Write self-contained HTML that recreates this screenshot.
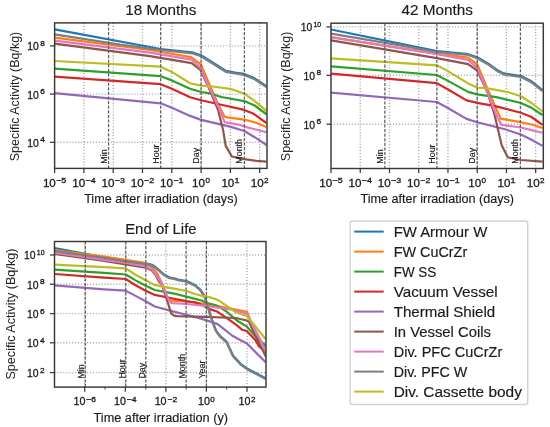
<!DOCTYPE html>
<html><head><meta charset="utf-8"><style>
html,body{margin:0;padding:0;background:#fff;}
svg{display:block;filter:blur(0.35px);}
text{font-family:"Liberation Sans",sans-serif;fill:#1a1a1a;stroke:#1a1a1a;stroke-width:0.15px;}
text.tk{stroke-width:0.3px;}
text.yl{stroke-width:0px;fill:#262626;}
</style></head><body>
<svg width="550" height="427" viewBox="0 0 550 427">
<defs>
<clipPath id="c0"><rect x="54.6" y="22.9" width="212.4" height="145.5"/></clipPath>
<clipPath id="c1"><rect x="331" y="23.2" width="212.29999999999995" height="145.3"/></clipPath>
<clipPath id="c2"><rect x="54.5" y="241.5" width="211.5" height="145.60000000000002"/></clipPath>
</defs>
<rect width="550" height="427" fill="#fff"/>
<line x1="83.90" y1="22.90" x2="83.90" y2="168.40" stroke="#ababab" stroke-width="1.4" stroke-dasharray="1.1,1.85"/>
<line x1="113.20" y1="22.90" x2="113.20" y2="168.40" stroke="#ababab" stroke-width="1.4" stroke-dasharray="1.1,1.85"/>
<line x1="142.50" y1="22.90" x2="142.50" y2="168.40" stroke="#ababab" stroke-width="1.4" stroke-dasharray="1.1,1.85"/>
<line x1="171.80" y1="22.90" x2="171.80" y2="168.40" stroke="#ababab" stroke-width="1.4" stroke-dasharray="1.1,1.85"/>
<line x1="201.10" y1="22.90" x2="201.10" y2="168.40" stroke="#ababab" stroke-width="1.4" stroke-dasharray="1.1,1.85"/>
<line x1="230.40" y1="22.90" x2="230.40" y2="168.40" stroke="#ababab" stroke-width="1.4" stroke-dasharray="1.1,1.85"/>
<line x1="259.70" y1="22.90" x2="259.70" y2="168.40" stroke="#ababab" stroke-width="1.4" stroke-dasharray="1.1,1.85"/>
<line x1="54.60" y1="45.90" x2="267.00" y2="45.90" stroke="#ababab" stroke-width="1.4" stroke-dasharray="1.1,1.85"/>
<line x1="54.60" y1="94.10" x2="267.00" y2="94.10" stroke="#ababab" stroke-width="1.4" stroke-dasharray="1.1,1.85"/>
<line x1="54.60" y1="142.30" x2="267.00" y2="142.30" stroke="#ababab" stroke-width="1.4" stroke-dasharray="1.1,1.85"/>
<line x1="360.24" y1="23.20" x2="360.24" y2="168.50" stroke="#ababab" stroke-width="1.4" stroke-dasharray="1.1,1.85"/>
<line x1="389.48" y1="23.20" x2="389.48" y2="168.50" stroke="#ababab" stroke-width="1.4" stroke-dasharray="1.1,1.85"/>
<line x1="418.72" y1="23.20" x2="418.72" y2="168.50" stroke="#ababab" stroke-width="1.4" stroke-dasharray="1.1,1.85"/>
<line x1="447.96" y1="23.20" x2="447.96" y2="168.50" stroke="#ababab" stroke-width="1.4" stroke-dasharray="1.1,1.85"/>
<line x1="477.20" y1="23.20" x2="477.20" y2="168.50" stroke="#ababab" stroke-width="1.4" stroke-dasharray="1.1,1.85"/>
<line x1="506.44" y1="23.20" x2="506.44" y2="168.50" stroke="#ababab" stroke-width="1.4" stroke-dasharray="1.1,1.85"/>
<line x1="535.68" y1="23.20" x2="535.68" y2="168.50" stroke="#ababab" stroke-width="1.4" stroke-dasharray="1.1,1.85"/>
<line x1="331.00" y1="26.90" x2="543.30" y2="26.90" stroke="#ababab" stroke-width="1.4" stroke-dasharray="1.1,1.85"/>
<line x1="331.00" y1="75.30" x2="543.30" y2="75.30" stroke="#ababab" stroke-width="1.4" stroke-dasharray="1.1,1.85"/>
<line x1="331.00" y1="124.20" x2="543.30" y2="124.20" stroke="#ababab" stroke-width="1.4" stroke-dasharray="1.1,1.85"/>
<line x1="84.70" y1="241.50" x2="84.70" y2="387.10" stroke="#ababab" stroke-width="1.4" stroke-dasharray="1.1,1.85"/>
<line x1="125.30" y1="241.50" x2="125.30" y2="387.10" stroke="#ababab" stroke-width="1.4" stroke-dasharray="1.1,1.85"/>
<line x1="165.90" y1="241.50" x2="165.90" y2="387.10" stroke="#ababab" stroke-width="1.4" stroke-dasharray="1.1,1.85"/>
<line x1="206.40" y1="241.50" x2="206.40" y2="387.10" stroke="#ababab" stroke-width="1.4" stroke-dasharray="1.1,1.85"/>
<line x1="247.00" y1="241.50" x2="247.00" y2="387.10" stroke="#ababab" stroke-width="1.4" stroke-dasharray="1.1,1.85"/>
<line x1="54.50" y1="255.00" x2="266.00" y2="255.00" stroke="#ababab" stroke-width="1.4" stroke-dasharray="1.1,1.85"/>
<line x1="54.50" y1="284.20" x2="266.00" y2="284.20" stroke="#ababab" stroke-width="1.4" stroke-dasharray="1.1,1.85"/>
<line x1="54.50" y1="313.60" x2="266.00" y2="313.60" stroke="#ababab" stroke-width="1.4" stroke-dasharray="1.1,1.85"/>
<line x1="54.50" y1="342.80" x2="266.00" y2="342.80" stroke="#ababab" stroke-width="1.4" stroke-dasharray="1.1,1.85"/>
<line x1="54.50" y1="372.60" x2="266.00" y2="372.60" stroke="#ababab" stroke-width="1.4" stroke-dasharray="1.1,1.85"/>
<g clip-path="url(#c0)" fill="none" stroke-width="2.2" stroke-linejoin="round" stroke-linecap="butt">
<polyline points="54.6,29.4 160.7,49.0 192.0,52.3 201.0,55.3 212.6,62.5 225.7,70.8 235.0,72.5 244.2,73.9 254.7,78.3 266.5,86.2" stroke="#1f77b4"/>
<polyline points="54.6,37.6 150.0,50.0 191.0,57.2 201.0,64.5 208.7,82.8 218.1,104.3 224.6,116.5 227.5,117.4 244.2,119.6 254.7,122.2 266.5,127.0" stroke="#ff7f0e"/>
<polyline points="54.6,68.6 160.7,76.2 171.9,80.4 190.1,88.8 201.1,92.0 209.8,93.4 221.3,97.0 244.2,101.1 254.7,105.5 266.5,114.3" stroke="#2ca02c"/>
<polyline points="54.6,76.6 160.7,84.2 171.9,88.8 190.1,97.2 201.1,100.3 221.3,104.7 244.2,109.9 253.0,113.4 266.5,123.1" stroke="#d62728"/>
<polyline points="54.6,93.2 160.7,103.3 171.9,107.8 190.1,115.9 201.1,119.9 230.1,126.6 244.2,131.0 254.7,137.2 266.5,145.0" stroke="#9467bd"/>
<polyline points="54.6,43.6 150.0,56.1 191.6,63.1 200.4,70.0 208.7,87.5 218.1,110.0 221.8,124.9 223.1,130.1 225.7,145.9 231.9,156.5 244.2,159.1 256.5,160.9 266.5,161.7" stroke="#8c564b"/>
<polyline points="54.6,40.6 150.0,52.6 191.6,59.6 200.3,67.5 208.7,86.5 218.1,106.2 224.6,122.1 240.0,124.9 244.2,126.6 254.7,129.3 266.5,132.2" stroke="#e377c2"/>
<polyline points="54.6,34.3 120.0,44.7 160.7,50.0 192.0,53.3 201.0,56.3 212.6,63.5 225.7,71.8 235.0,73.5 244.2,74.9 254.7,79.3 266.5,87.2" stroke="#7f7f7f"/>
<polyline points="54.6,61.0 160.7,66.7 171.9,71.9 190.1,83.2 201.1,85.6 212.6,86.5 230.1,88.8 244.2,93.5 254.7,101.1 266.5,110.8" stroke="#bcbd22"/>
</g>
<g clip-path="url(#c1)" fill="none" stroke-width="2.2" stroke-linejoin="round" stroke-linecap="butt">
<polyline points="331.0,29.5 436.8,51.2 468.1,54.2 477.3,57.3 488.7,64.0 498.0,70.6 503.7,73.4 510.0,74.4 520.9,76.0 531.5,81.3 542.5,90.1" stroke="#1f77b4"/>
<polyline points="331.0,37.3 436.8,53.7 468.1,57.6 477.3,64.5 487.6,89.2 499.0,115.0 500.7,118.7 520.9,122.2 531.5,124.5 542.5,128.0" stroke="#ff7f0e"/>
<polyline points="331.0,66.4 436.8,75.0 447.5,80.6 468.1,91.9 477.3,94.4 496.3,97.1 520.9,103.0 531.5,107.8 542.5,115.0" stroke="#2ca02c"/>
<polyline points="331.0,73.7 436.8,83.1 449.0,90.0 466.5,100.4 477.3,102.9 496.3,106.4 520.9,112.7 531.5,117.0 542.5,124.9" stroke="#d62728"/>
<polyline points="331.0,92.7 436.8,102.0 447.9,108.0 466.5,118.9 477.3,122.2 505.1,129.3 520.9,134.5 531.5,139.8 542.5,145.9" stroke="#9467bd"/>
<polyline points="331.0,40.4 436.8,58.1 468.1,64.1 477.3,70.5 487.6,92.7 494.6,115.0 498.1,130.1 501.6,145.1 507.8,157.4 520.9,160.0 542.5,161.7" stroke="#8c564b"/>
<polyline points="331.0,37.0 436.8,54.2 468.1,60.0 477.3,67.8 487.6,92.7 496.3,115.0 501.6,124.9 520.9,127.5 531.5,130.1 542.5,132.8" stroke="#e377c2"/>
<polyline points="331.0,33.7 400.0,45.4 436.8,52.0 468.1,55.0 477.3,58.2 488.7,64.9 498.0,71.5 503.7,74.3 510.0,75.3 520.9,77.0 531.5,82.3 542.5,91.1" stroke="#7f7f7f"/>
<polyline points="331.0,58.4 436.8,65.3 447.5,70.9 468.1,83.4 477.3,87.5 487.6,88.3 506.9,91.8 520.9,96.2 531.5,103.0 542.5,111.5" stroke="#bcbd22"/>
</g>
<g clip-path="url(#c2)" fill="none" stroke-width="2.2" stroke-linejoin="round" stroke-linecap="butt">
<polyline points="54.6,248.2 104.0,257.3 125.8,260.6 145.7,263.4 152.0,264.8 155.5,267.0 159.0,270.1 162.6,273.3 166.1,275.7 169.6,277.5 175.0,278.5 177.8,279.5 186.4,281.0 195.0,285.0 200.6,289.8 204.8,296.9 207.6,305.3 210.5,315.1 213.3,323.6 216.1,330.6 220.3,336.2 226.5,341.5 233.0,355.4 240.6,363.8 247.0,368.4 265.7,378.3" stroke="#1f77b4"/>
<polyline points="54.6,250.0 104.0,256.5 125.8,259.8 145.7,263.2 152.0,267.2 155.5,271.0 157.5,274.0 159.0,277.3 161.9,283.1 164.7,290.0 167.0,296.6 171.1,300.7 186.4,301.5 199.0,303.1 210.0,304.8 230.8,308.5 246.9,311.8 252.1,324.1 260.3,340.0 266.0,350.0" stroke="#ff7f0e"/>
<polyline points="54.6,269.6 104.0,272.9 125.8,274.5 135.1,280.1 145.7,285.7 154.8,290.0 172.8,293.3 186.4,296.6 202.3,300.7 206.2,302.8 216.0,305.2 225.9,311.0 237.3,320.8 246.7,326.4 257.0,338.0 266.0,346.0" stroke="#2ca02c"/>
<polyline points="54.6,274.0 104.0,277.6 125.8,279.0 135.1,285.0 145.7,290.7 154.8,294.9 172.8,298.5 186.4,301.1 195.0,302.4 200.5,304.2 205.3,306.9 208.0,308.6 217.7,311.8 230.8,320.8 236.0,324.6 242.3,329.8 246.7,331.0 255.4,340.0 258.9,346.3 266.0,352.0" stroke="#d62728"/>
<polyline points="54.6,285.4 104.0,289.3 125.8,290.7 135.1,295.6 145.7,301.2 154.8,306.5 172.8,311.4 186.4,314.7 197.4,317.6 207.8,320.8 217.7,324.1 225.9,330.7 232.0,335.5 240.6,340.2 246.7,343.3 265.7,362.3" stroke="#9467bd"/>
<polyline points="54.6,254.0 104.0,261.0 125.8,264.3 145.7,267.6 152.0,270.5 155.5,275.0 158.5,280.5 162.3,285.5 171.2,313.3 174.0,315.7 177.0,316.2 186.4,316.3 205.6,316.8 236.0,318.0 246.7,320.5 248.8,321.6 255.4,335.6 266.3,357.4" stroke="#8c564b"/>
<polyline points="54.6,252.7 104.0,259.8 125.8,262.8 145.7,266.4 152.0,269.4 155.5,274.0 160.0,280.5 163.5,288.0 166.5,295.0 170.5,302.6 172.5,303.1 186.4,304.0 205.6,305.8 230.8,309.5 246.9,313.4 255.0,330.0 260.3,340.0 266.0,352.0" stroke="#e377c2"/>
<polyline points="54.6,251.1 104.0,257.9 125.8,261.3 145.7,264.1 152.0,265.5 155.5,267.7 159.0,270.8 162.6,274.0 166.1,276.4 169.6,278.2 175.0,279.2 177.8,280.2 186.4,281.7 195.0,285.7 200.6,290.6 204.8,297.7 207.6,306.1 210.5,315.9 213.3,324.4 216.1,331.4 220.3,337.0 226.5,342.3 233.0,356.2 240.6,364.6 247.0,369.2 265.7,379.1" stroke="#7f7f7f"/>
<polyline points="54.6,264.7 104.0,267.2 125.8,268.4 135.1,274.5 145.7,280.3 154.4,284.9 163.7,286.9 172.8,288.4 186.4,291.0 195.0,294.0 203.4,296.2 210.0,297.4 216.0,299.3 220.5,301.6 225.0,304.6 236.0,312.3 246.9,316.0 265.7,339.0" stroke="#bcbd22"/>
</g>
<line x1="108.57" y1="22.90" x2="108.57" y2="168.40" stroke="#5e5e5e" stroke-width="1.25" stroke-dasharray="3.1,1.5"/>
<line x1="160.67" y1="22.90" x2="160.67" y2="168.40" stroke="#5e5e5e" stroke-width="1.25" stroke-dasharray="3.1,1.5"/>
<line x1="201.10" y1="22.90" x2="201.10" y2="168.40" stroke="#5e5e5e" stroke-width="1.25" stroke-dasharray="3.1,1.5"/>
<line x1="244.38" y1="22.90" x2="244.38" y2="168.40" stroke="#5e5e5e" stroke-width="1.25" stroke-dasharray="3.1,1.5"/>
<line x1="384.86" y1="23.20" x2="384.86" y2="168.50" stroke="#5e5e5e" stroke-width="1.25" stroke-dasharray="3.1,1.5"/>
<line x1="436.85" y1="23.20" x2="436.85" y2="168.50" stroke="#5e5e5e" stroke-width="1.25" stroke-dasharray="3.1,1.5"/>
<line x1="477.20" y1="23.20" x2="477.20" y2="168.50" stroke="#5e5e5e" stroke-width="1.25" stroke-dasharray="3.1,1.5"/>
<line x1="520.39" y1="23.20" x2="520.39" y2="168.50" stroke="#5e5e5e" stroke-width="1.25" stroke-dasharray="3.1,1.5"/>
<text transform="translate(106.67,163.70) rotate(-90)" font-size="8.9" text-anchor="start">Min</text>
<text transform="translate(158.77,163.70) rotate(-90)" font-size="8.9" text-anchor="start">Hour</text>
<text transform="translate(199.20,163.70) rotate(-90)" font-size="8.9" text-anchor="start">Day</text>
<text transform="translate(242.48,163.70) rotate(-90)" font-size="8.9" text-anchor="start">Month</text>
<text transform="translate(382.96,163.70) rotate(-90)" font-size="8.9" text-anchor="start">Min</text>
<text transform="translate(434.95,163.70) rotate(-90)" font-size="8.9" text-anchor="start">Hour</text>
<text transform="translate(475.30,163.70) rotate(-90)" font-size="8.9" text-anchor="start">Day</text>
<text transform="translate(518.49,163.70) rotate(-90)" font-size="8.9" text-anchor="start">Month</text>
<line x1="85.30" y1="241.50" x2="85.30" y2="387.10" stroke="#5e5e5e" stroke-width="1.25" stroke-dasharray="3.1,1.5"/>
<line x1="125.80" y1="241.50" x2="125.80" y2="387.10" stroke="#5e5e5e" stroke-width="1.25" stroke-dasharray="3.1,1.5"/>
<line x1="145.80" y1="241.50" x2="145.80" y2="387.10" stroke="#5e5e5e" stroke-width="1.25" stroke-dasharray="3.1,1.5"/>
<line x1="186.10" y1="241.50" x2="186.10" y2="387.10" stroke="#5e5e5e" stroke-width="1.25" stroke-dasharray="3.1,1.5"/>
<line x1="206.40" y1="241.50" x2="206.40" y2="387.10" stroke="#5e5e5e" stroke-width="1.25" stroke-dasharray="3.1,1.5"/>
<text transform="translate(84.00,378.60) rotate(-90)" font-size="8.9" text-anchor="start">Min</text>
<text transform="translate(124.50,378.60) rotate(-90)" font-size="8.9" text-anchor="start">Hour</text>
<text transform="translate(144.50,378.60) rotate(-90)" font-size="8.9" text-anchor="start">Day</text>
<text transform="translate(184.80,378.60) rotate(-90)" font-size="8.9" text-anchor="start">Month</text>
<text transform="translate(205.10,378.60) rotate(-90)" font-size="8.9" text-anchor="start">Year</text>
<rect x="54.60" y="22.90" width="212.40" height="145.50" fill="none" stroke="#383838" stroke-width="1.45"/>
<rect x="331.00" y="23.20" width="212.30" height="145.30" fill="none" stroke="#383838" stroke-width="1.45"/>
<rect x="54.50" y="241.50" width="211.50" height="145.60" fill="none" stroke="#383838" stroke-width="1.45"/>
<line x1="54.60" y1="168.40" x2="54.60" y2="173.00" stroke="#383838" stroke-width="1.25" />
<text class="tk" x="42.92" y="186.50" font-size="11.14" textLength="12.92" lengthAdjust="spacingAndGlyphs">10</text>
<text class="tk" x="56.21" y="182.70" font-size="7.57" textLength="10.10" lengthAdjust="spacingAndGlyphs">−5</text>
<line x1="83.90" y1="168.40" x2="83.90" y2="173.00" stroke="#383838" stroke-width="1.25" />
<text class="tk" x="72.22" y="186.50" font-size="11.14" textLength="12.92" lengthAdjust="spacingAndGlyphs">10</text>
<text class="tk" x="85.51" y="182.70" font-size="7.57" textLength="10.10" lengthAdjust="spacingAndGlyphs">−4</text>
<line x1="113.20" y1="168.40" x2="113.20" y2="173.00" stroke="#383838" stroke-width="1.25" />
<text class="tk" x="101.52" y="186.50" font-size="11.14" textLength="12.92" lengthAdjust="spacingAndGlyphs">10</text>
<text class="tk" x="114.81" y="182.70" font-size="7.57" textLength="10.10" lengthAdjust="spacingAndGlyphs">−3</text>
<line x1="142.50" y1="168.40" x2="142.50" y2="173.00" stroke="#383838" stroke-width="1.25" />
<text class="tk" x="130.82" y="186.50" font-size="11.14" textLength="12.92" lengthAdjust="spacingAndGlyphs">10</text>
<text class="tk" x="144.11" y="182.70" font-size="7.57" textLength="10.10" lengthAdjust="spacingAndGlyphs">−2</text>
<line x1="171.80" y1="168.40" x2="171.80" y2="173.00" stroke="#383838" stroke-width="1.25" />
<text class="tk" x="160.12" y="186.50" font-size="11.14" textLength="12.92" lengthAdjust="spacingAndGlyphs">10</text>
<text class="tk" x="173.41" y="182.70" font-size="7.57" textLength="10.10" lengthAdjust="spacingAndGlyphs">−1</text>
<line x1="201.10" y1="168.40" x2="201.10" y2="173.00" stroke="#383838" stroke-width="1.25" />
<text class="tk" x="192.12" y="186.50" font-size="11.14" textLength="12.92" lengthAdjust="spacingAndGlyphs">10</text>
<text class="tk" x="205.53" y="182.70" font-size="7.57" textLength="4.52" lengthAdjust="spacingAndGlyphs">0</text>
<line x1="230.40" y1="168.40" x2="230.40" y2="173.00" stroke="#383838" stroke-width="1.25" />
<text class="tk" x="221.42" y="186.50" font-size="11.14" textLength="12.92" lengthAdjust="spacingAndGlyphs">10</text>
<text class="tk" x="234.42" y="182.70" font-size="7.57" textLength="5.04" lengthAdjust="spacingAndGlyphs">1</text>
<line x1="259.70" y1="168.40" x2="259.70" y2="173.00" stroke="#383838" stroke-width="1.25" />
<text class="tk" x="250.72" y="186.50" font-size="11.14" textLength="12.92" lengthAdjust="spacingAndGlyphs">10</text>
<text class="tk" x="264.12" y="182.70" font-size="7.57" textLength="4.52" lengthAdjust="spacingAndGlyphs">2</text>
<line x1="50.00" y1="45.90" x2="54.60" y2="45.90" stroke="#383838" stroke-width="1.25" />
<text class="tk" x="27.17" y="50.30" font-size="11.43" textLength="11.57" lengthAdjust="spacingAndGlyphs">10</text>
<text class="tk" x="40.17" y="45.90" font-size="7.57" textLength="4.63" lengthAdjust="spacingAndGlyphs">8</text>
<line x1="50.00" y1="94.10" x2="54.60" y2="94.10" stroke="#383838" stroke-width="1.25" />
<text class="tk" x="27.17" y="98.50" font-size="11.43" textLength="11.57" lengthAdjust="spacingAndGlyphs">10</text>
<text class="tk" x="40.17" y="94.10" font-size="7.57" textLength="4.63" lengthAdjust="spacingAndGlyphs">6</text>
<line x1="50.00" y1="142.30" x2="54.60" y2="142.30" stroke="#383838" stroke-width="1.25" />
<text class="tk" x="27.17" y="146.70" font-size="11.43" textLength="11.57" lengthAdjust="spacingAndGlyphs">10</text>
<text class="tk" x="40.17" y="142.30" font-size="7.57" textLength="4.63" lengthAdjust="spacingAndGlyphs">4</text>
<line x1="331.00" y1="168.50" x2="331.00" y2="173.10" stroke="#383838" stroke-width="1.25" />
<text class="tk" x="319.32" y="186.50" font-size="11.14" textLength="12.92" lengthAdjust="spacingAndGlyphs">10</text>
<text class="tk" x="332.61" y="182.70" font-size="7.57" textLength="10.10" lengthAdjust="spacingAndGlyphs">−5</text>
<line x1="360.24" y1="168.50" x2="360.24" y2="173.10" stroke="#383838" stroke-width="1.25" />
<text class="tk" x="348.56" y="186.50" font-size="11.14" textLength="12.92" lengthAdjust="spacingAndGlyphs">10</text>
<text class="tk" x="361.85" y="182.70" font-size="7.57" textLength="10.10" lengthAdjust="spacingAndGlyphs">−4</text>
<line x1="389.48" y1="168.50" x2="389.48" y2="173.10" stroke="#383838" stroke-width="1.25" />
<text class="tk" x="377.80" y="186.50" font-size="11.14" textLength="12.92" lengthAdjust="spacingAndGlyphs">10</text>
<text class="tk" x="391.09" y="182.70" font-size="7.57" textLength="10.10" lengthAdjust="spacingAndGlyphs">−3</text>
<line x1="418.72" y1="168.50" x2="418.72" y2="173.10" stroke="#383838" stroke-width="1.25" />
<text class="tk" x="407.04" y="186.50" font-size="11.14" textLength="12.92" lengthAdjust="spacingAndGlyphs">10</text>
<text class="tk" x="420.33" y="182.70" font-size="7.57" textLength="10.10" lengthAdjust="spacingAndGlyphs">−2</text>
<line x1="447.96" y1="168.50" x2="447.96" y2="173.10" stroke="#383838" stroke-width="1.25" />
<text class="tk" x="436.28" y="186.50" font-size="11.14" textLength="12.92" lengthAdjust="spacingAndGlyphs">10</text>
<text class="tk" x="449.57" y="182.70" font-size="7.57" textLength="10.10" lengthAdjust="spacingAndGlyphs">−1</text>
<line x1="477.20" y1="168.50" x2="477.20" y2="173.10" stroke="#383838" stroke-width="1.25" />
<text class="tk" x="468.22" y="186.50" font-size="11.14" textLength="12.92" lengthAdjust="spacingAndGlyphs">10</text>
<text class="tk" x="481.62" y="182.70" font-size="7.57" textLength="4.52" lengthAdjust="spacingAndGlyphs">0</text>
<line x1="506.44" y1="168.50" x2="506.44" y2="173.10" stroke="#383838" stroke-width="1.25" />
<text class="tk" x="497.46" y="186.50" font-size="11.14" textLength="12.92" lengthAdjust="spacingAndGlyphs">10</text>
<text class="tk" x="510.46" y="182.70" font-size="7.57" textLength="5.04" lengthAdjust="spacingAndGlyphs">1</text>
<line x1="535.68" y1="168.50" x2="535.68" y2="173.10" stroke="#383838" stroke-width="1.25" />
<text class="tk" x="526.70" y="186.50" font-size="11.14" textLength="12.92" lengthAdjust="spacingAndGlyphs">10</text>
<text class="tk" x="540.10" y="182.70" font-size="7.57" textLength="4.52" lengthAdjust="spacingAndGlyphs">2</text>
<line x1="326.40" y1="26.90" x2="331.00" y2="26.90" stroke="#383838" stroke-width="1.25" />
<text class="tk" x="300.67" y="31.30" font-size="11.43" textLength="11.57" lengthAdjust="spacingAndGlyphs">10</text>
<text class="tk" x="313.44" y="26.90" font-size="7.57" textLength="7.75" lengthAdjust="spacingAndGlyphs">10</text>
<line x1="326.40" y1="75.30" x2="331.00" y2="75.30" stroke="#383838" stroke-width="1.25" />
<text class="tk" x="303.57" y="79.70" font-size="11.43" textLength="11.57" lengthAdjust="spacingAndGlyphs">10</text>
<text class="tk" x="316.57" y="75.30" font-size="7.57" textLength="4.63" lengthAdjust="spacingAndGlyphs">8</text>
<line x1="326.40" y1="124.20" x2="331.00" y2="124.20" stroke="#383838" stroke-width="1.25" />
<text class="tk" x="303.57" y="128.60" font-size="11.43" textLength="11.57" lengthAdjust="spacingAndGlyphs">10</text>
<text class="tk" x="316.57" y="124.20" font-size="7.57" textLength="4.63" lengthAdjust="spacingAndGlyphs">6</text>
<line x1="84.70" y1="387.10" x2="84.70" y2="391.70" stroke="#383838" stroke-width="1.25" />
<text class="tk" x="73.44" y="405.40" font-size="11.14" textLength="11.91" lengthAdjust="spacingAndGlyphs">10</text>
<text class="tk" x="86.27" y="401.60" font-size="7.57" textLength="9.77" lengthAdjust="spacingAndGlyphs">−6</text>
<line x1="125.30" y1="387.10" x2="125.30" y2="391.70" stroke="#383838" stroke-width="1.25" />
<text class="tk" x="114.04" y="405.40" font-size="11.14" textLength="11.91" lengthAdjust="spacingAndGlyphs">10</text>
<text class="tk" x="126.87" y="401.60" font-size="7.57" textLength="9.77" lengthAdjust="spacingAndGlyphs">−4</text>
<line x1="165.90" y1="387.10" x2="165.90" y2="391.70" stroke="#383838" stroke-width="1.25" />
<text class="tk" x="154.64" y="405.40" font-size="11.14" textLength="11.91" lengthAdjust="spacingAndGlyphs">10</text>
<text class="tk" x="167.47" y="401.60" font-size="7.57" textLength="9.77" lengthAdjust="spacingAndGlyphs">−2</text>
<line x1="206.40" y1="387.10" x2="206.40" y2="391.70" stroke="#383838" stroke-width="1.25" />
<text class="tk" x="197.94" y="405.40" font-size="11.14" textLength="11.91" lengthAdjust="spacingAndGlyphs">10</text>
<text class="tk" x="210.38" y="401.60" font-size="7.57" textLength="4.52" lengthAdjust="spacingAndGlyphs">0</text>
<line x1="247.00" y1="387.10" x2="247.00" y2="391.70" stroke="#383838" stroke-width="1.25" />
<text class="tk" x="238.54" y="405.40" font-size="11.14" textLength="11.91" lengthAdjust="spacingAndGlyphs">10</text>
<text class="tk" x="250.98" y="401.60" font-size="7.57" textLength="4.52" lengthAdjust="spacingAndGlyphs">2</text>
<line x1="105.10" y1="387.10" x2="105.10" y2="389.60" stroke="#383838" stroke-width="0.9" />
<line x1="145.70" y1="387.10" x2="145.70" y2="389.60" stroke="#383838" stroke-width="0.9" />
<line x1="186.20" y1="387.10" x2="186.20" y2="389.60" stroke="#383838" stroke-width="0.9" />
<line x1="226.70" y1="387.10" x2="226.70" y2="389.60" stroke="#383838" stroke-width="0.9" />
<line x1="49.90" y1="255.00" x2="54.50" y2="255.00" stroke="#383838" stroke-width="1.25" />
<text class="tk" x="24.07" y="259.30" font-size="11.43" textLength="11.57" lengthAdjust="spacingAndGlyphs">10</text>
<text class="tk" x="36.84" y="254.90" font-size="7.57" textLength="7.75" lengthAdjust="spacingAndGlyphs">10</text>
<line x1="49.90" y1="284.20" x2="54.50" y2="284.20" stroke="#383838" stroke-width="1.25" />
<text class="tk" x="26.97" y="288.50" font-size="11.43" textLength="11.57" lengthAdjust="spacingAndGlyphs">10</text>
<text class="tk" x="39.97" y="284.10" font-size="7.57" textLength="4.63" lengthAdjust="spacingAndGlyphs">8</text>
<line x1="49.90" y1="313.60" x2="54.50" y2="313.60" stroke="#383838" stroke-width="1.25" />
<text class="tk" x="26.97" y="317.90" font-size="11.43" textLength="11.57" lengthAdjust="spacingAndGlyphs">10</text>
<text class="tk" x="39.97" y="313.50" font-size="7.57" textLength="4.63" lengthAdjust="spacingAndGlyphs">6</text>
<line x1="49.90" y1="342.80" x2="54.50" y2="342.80" stroke="#383838" stroke-width="1.25" />
<text class="tk" x="26.97" y="347.10" font-size="11.43" textLength="11.57" lengthAdjust="spacingAndGlyphs">10</text>
<text class="tk" x="39.97" y="342.70" font-size="7.57" textLength="4.63" lengthAdjust="spacingAndGlyphs">4</text>
<line x1="49.90" y1="372.60" x2="54.50" y2="372.60" stroke="#383838" stroke-width="1.25" />
<text class="tk" x="26.97" y="376.90" font-size="11.43" textLength="11.57" lengthAdjust="spacingAndGlyphs">10</text>
<text class="tk" x="39.97" y="372.50" font-size="7.57" textLength="4.63" lengthAdjust="spacingAndGlyphs">2</text>
<text x="160.80" y="14.60" font-size="15" text-anchor="middle" textLength="71" lengthAdjust="spacingAndGlyphs" >18 Months</text>
<text x="437.20" y="14.60" font-size="15" text-anchor="middle" textLength="71.5" lengthAdjust="spacingAndGlyphs" >42 Months</text>
<text x="160.90" y="233.80" font-size="15" text-anchor="middle" textLength="71.5" lengthAdjust="spacingAndGlyphs" >End of Life</text>
<text x="160.90" y="203.00" font-size="12.3" text-anchor="middle" textLength="153.5" lengthAdjust="spacingAndGlyphs" >Time after irradiation (days)</text>
<text x="437.20" y="203.00" font-size="12.3" text-anchor="middle" textLength="153.5" lengthAdjust="spacingAndGlyphs" >Time after irradiation (days)</text>
<text x="160.80" y="422.00" font-size="12.3" text-anchor="middle" textLength="134.5" lengthAdjust="spacingAndGlyphs" >Time after irradiation (y)</text>
<text transform="translate(19.20,96.50) rotate(-90)" class="yl" font-size="11.9" text-anchor="middle" textLength="129.5" lengthAdjust="spacingAndGlyphs">Specific Activity (Bq/kg)</text>
<text transform="translate(290.20,96.40) rotate(-90)" class="yl" font-size="11.9" text-anchor="middle" textLength="129.5" lengthAdjust="spacingAndGlyphs">Specific Activity (Bq/kg)</text>
<text transform="translate(14.60,314.10) rotate(-90)" class="yl" font-size="11.9" text-anchor="middle" textLength="131" lengthAdjust="spacingAndGlyphs">Specific Activity (Bq/kg)</text>
<rect x="350.2" y="221" width="177.5" height="183.5" rx="2.5" fill="#fff" stroke="#d2d2d2" stroke-width="1.4"/>
<line x1="354.20" y1="231.60" x2="383.70" y2="231.60" stroke="#1f77b4" stroke-width="2.0" />
<text x="393.70" y="236.50" font-size="13.8" text-anchor="start" textLength="93.5" lengthAdjust="spacingAndGlyphs" >FW Armour W</text>
<line x1="354.20" y1="251.60" x2="383.70" y2="251.60" stroke="#ff7f0e" stroke-width="2.0" />
<text x="393.70" y="256.50" font-size="13.8" text-anchor="start" textLength="73.5" lengthAdjust="spacingAndGlyphs" >FW CuCrZr</text>
<line x1="354.20" y1="271.60" x2="383.70" y2="271.60" stroke="#2ca02c" stroke-width="2.0" />
<text x="393.70" y="276.50" font-size="13.8" text-anchor="start" textLength="42.5" lengthAdjust="spacingAndGlyphs" >FW SS</text>
<line x1="354.20" y1="291.60" x2="383.70" y2="291.60" stroke="#d62728" stroke-width="2.0" />
<text x="393.70" y="296.50" font-size="13.8" text-anchor="start" textLength="104" lengthAdjust="spacingAndGlyphs" >Vacuum Vessel</text>
<line x1="354.20" y1="311.60" x2="383.70" y2="311.60" stroke="#9467bd" stroke-width="2.0" />
<text x="393.70" y="316.50" font-size="13.8" text-anchor="start" textLength="101.5" lengthAdjust="spacingAndGlyphs" >Thermal Shield</text>
<line x1="354.20" y1="331.60" x2="383.70" y2="331.60" stroke="#8c564b" stroke-width="2.0" />
<text x="393.70" y="336.50" font-size="13.8" text-anchor="start" textLength="97.2" lengthAdjust="spacingAndGlyphs" >In Vessel Coils</text>
<line x1="354.20" y1="351.60" x2="383.70" y2="351.60" stroke="#e377c2" stroke-width="2.0" />
<text x="393.70" y="356.50" font-size="13.8" text-anchor="start" textLength="108.6" lengthAdjust="spacingAndGlyphs" >Div. PFC CuCrZr</text>
<line x1="354.20" y1="371.60" x2="383.70" y2="371.60" stroke="#7f7f7f" stroke-width="2.0" />
<text x="393.70" y="376.50" font-size="13.8" text-anchor="start" textLength="73.5" lengthAdjust="spacingAndGlyphs" >Div. PFC W</text>
<line x1="354.20" y1="391.60" x2="383.70" y2="391.60" stroke="#bcbd22" stroke-width="2.0" />
<text x="393.70" y="396.50" font-size="13.8" text-anchor="start" textLength="128.2" lengthAdjust="spacingAndGlyphs" >Div. Cassette body</text>
</svg>
</body></html>
